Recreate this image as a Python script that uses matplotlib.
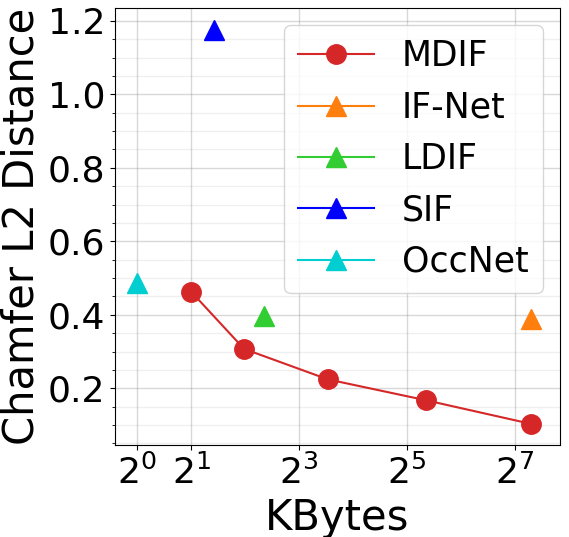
import matplotlib
matplotlib.use("Agg")
import matplotlib.pyplot as plt

mdif_kb = [2.0, 3.95, 11.6, 41.0, 157.0]
mdif_cd = [0.463, 0.307, 0.224, 0.167, 0.103]
others = {
    "IF-Net": (157.0, 0.388, "tab:orange"),
    "LDIF": (5.1, 0.398, "limegreen"),
    "SIF": (2.7, 1.175, "blue"),
    "OccNet": (1.0, 0.487, "darkturquoise"),
}

fig = plt.figure(figsize=(5.69, 5.37), dpi=100)
ax = fig.add_axes([0.202, 0.171, 0.782, 0.814])

ax.plot(mdif_kb, mdif_cd, "o-", color="tab:red", markersize=14, label="MDIF")
for name, (x, y, c) in others.items():
    ax.plot([x], [y], "^-", color=c, markersize=14, label=name)

ax.set_xscale("log", base=2)
ax.set_xlim(2 ** -0.41, 2 ** 7.83)
ax.set_ylim(0.045, 1.235)
ax.set_xticks([1, 2, 8, 32, 128])
ax.set_yticks([0.2, 0.4, 0.6, 0.8, 1.0, 1.2])
ax.minorticks_on()
ax.grid(which="major", alpha=0.3, color="gray", linewidth=1)
ax.grid(which="minor", alpha=0.12, color="gray", linewidth=1)
ax.tick_params(labelsize=26)
ax.set_xlabel("KBytes", fontsize=30)
ax.set_ylabel("Chamfer L2 Distance", fontsize=30)
ax.legend(loc="upper right", fontsize=25, handlelength=2.2)
fig.savefig("out.png", dpi=100)
